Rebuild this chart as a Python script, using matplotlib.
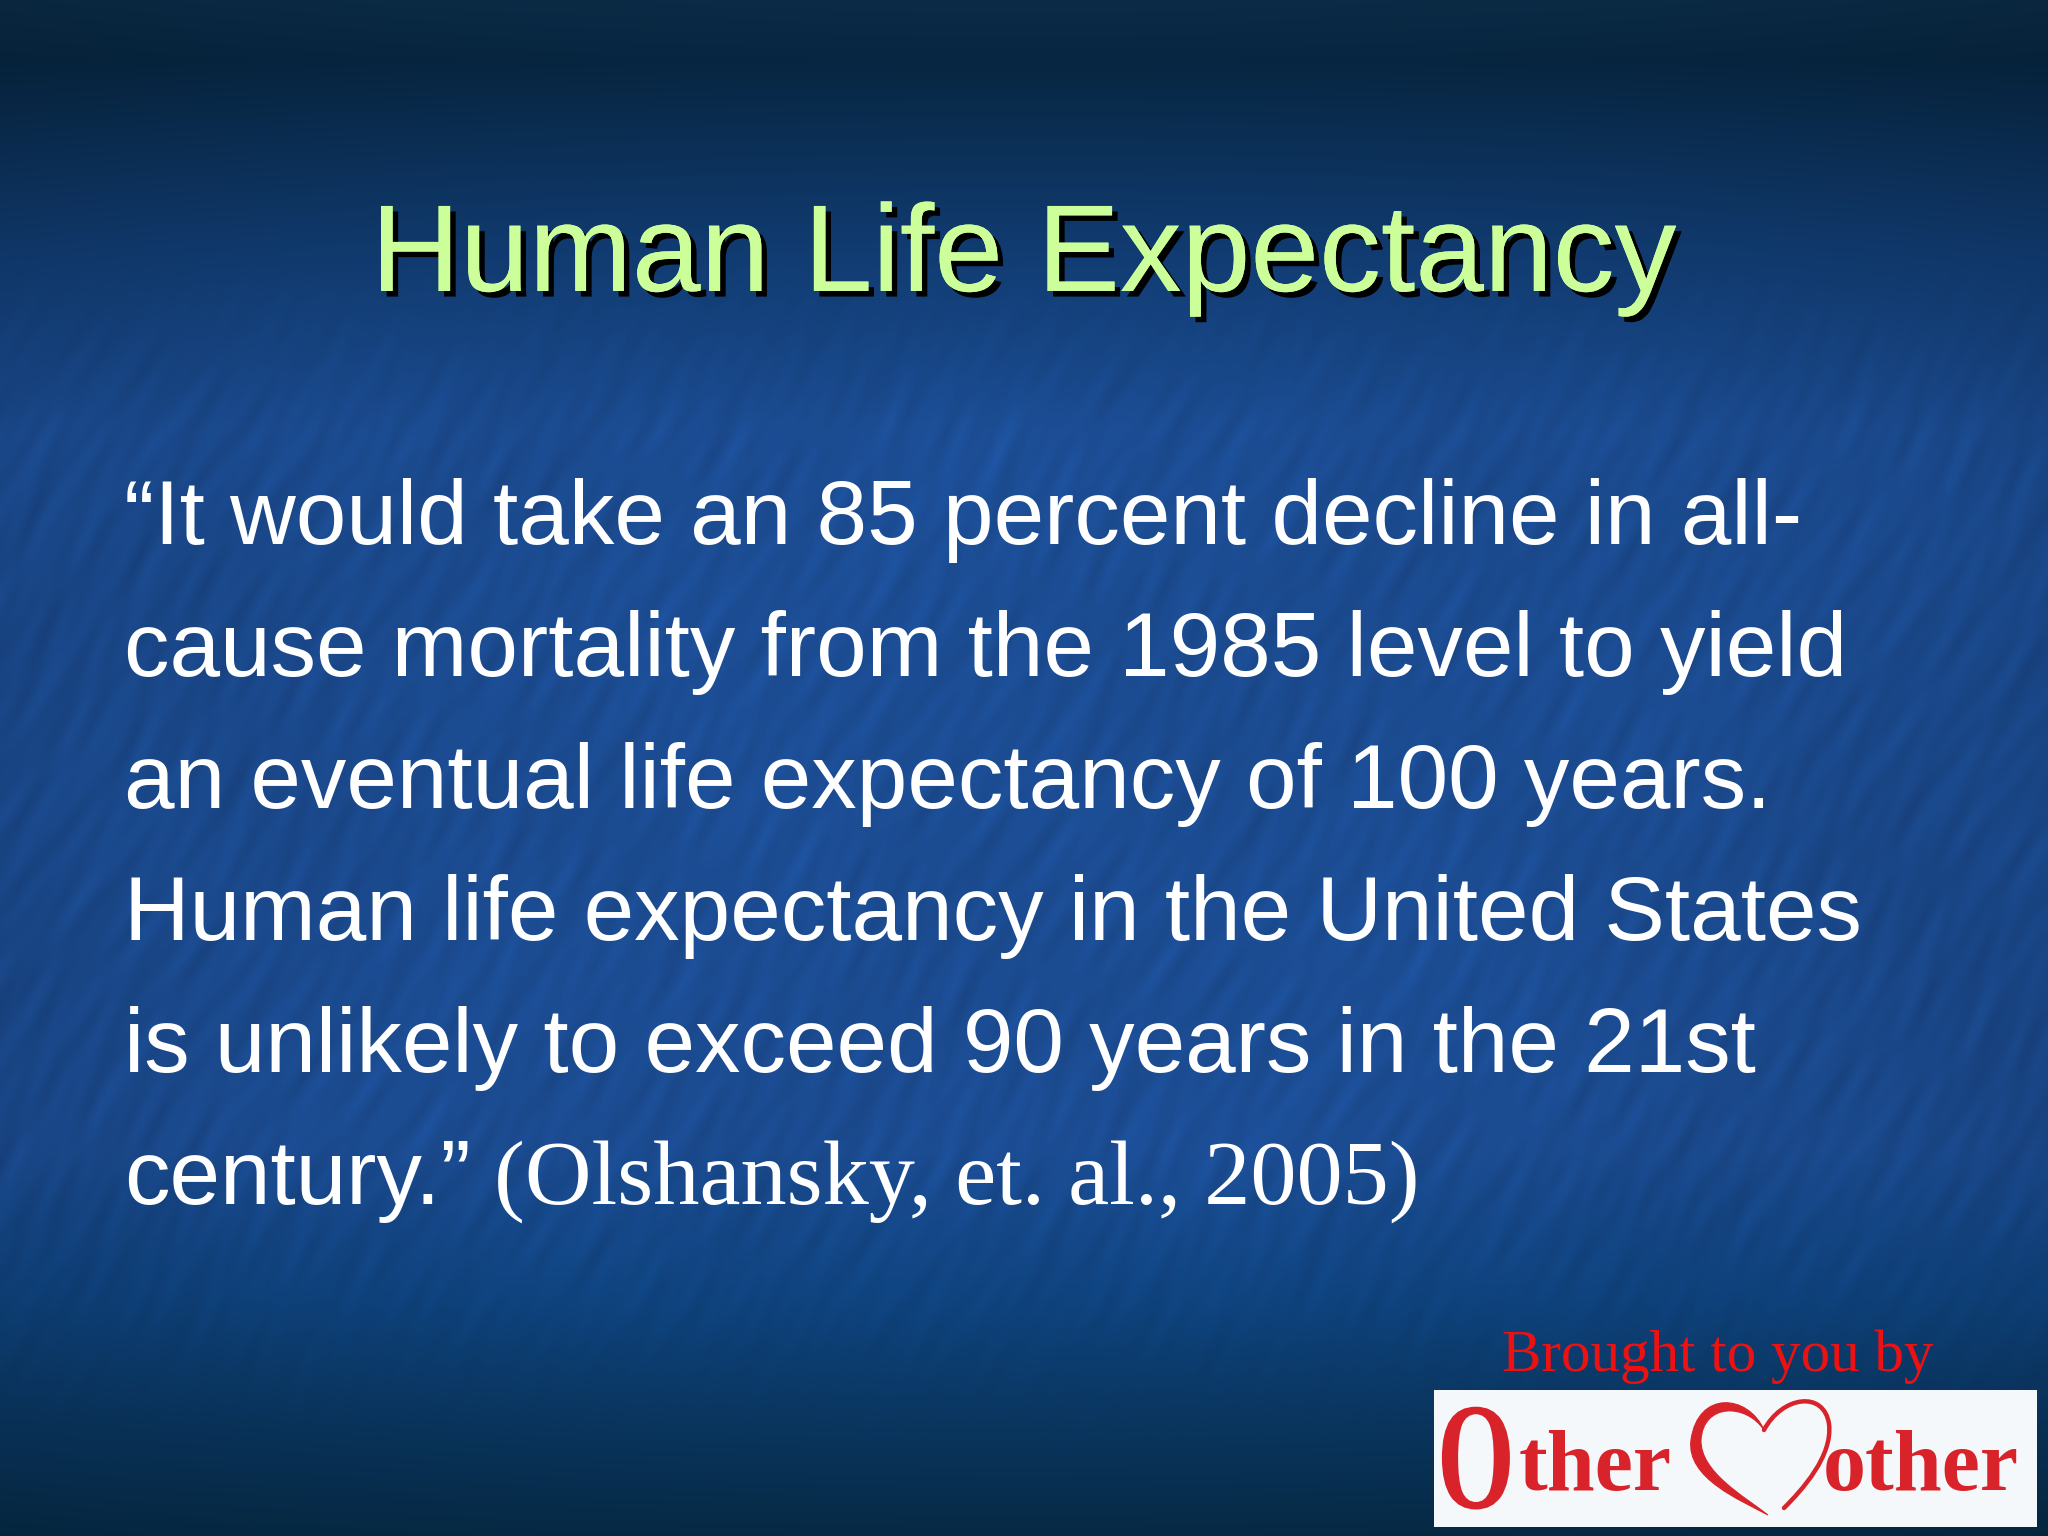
import numpy as np
import matplotlib
matplotlib.use("Agg")
import matplotlib.pyplot as plt
import matplotlib.patheffects as pe
from matplotlib.path import Path
from matplotlib.patches import PathPatch, Rectangle
from matplotlib.colors import to_rgb
from matplotlib.transforms import Affine2D

# ---- content ----
title = "Human Life Expectancy"
quote_lines = [
    "\u201cIt would take an 85 percent decline in all-",
    "cause mortality from the 1985 level to yield",
    "an eventual life expectancy of 100 years.",
    "Human life expectancy in the United States",
    "is unlikely to exceed 90 years in the 21st",
]
last_line_sans = "century.\u201d"
citation = " (Olshansky, et. al., 2005)"
credit = "Brought to you by"
logo_words = ["O", "ther", "other"]

W, H = 2048, 1536
fig = plt.figure(figsize=(W / 100, H / 100), dpi=100)
ax = fig.add_axes([0, 0, 1, 1])
ax.set_xlim(0, W)
ax.set_ylim(H, 0)
ax.axis("off")


class Stretch(pe.AbstractPathEffect):
    """Scale a text glyph about its baseline-left anchor (condensed tall letter)."""
    def __init__(self, sx, sy, anchor):
        super().__init__()
        self.sx, self.sy = sx, sy
        self.anchor = anchor

    def draw_path(self, renderer, gc, tpath, affine, rgbFace=None):
        x0, y0 = ax.transData.transform(self.anchor)
        extra = Affine2D().translate(-x0, -y0).scale(self.sx, self.sy).translate(x0, y0)
        renderer.draw_path(gc, tpath, affine + extra, rgbFace)


# ---- background gradient with subtle texture ----
ny, nx = 512, 683
yy = np.linspace(0, H, ny)
xx = np.linspace(0, W, nx)
stops_y = [0, 60, 250, 430, 1150, 1300, 1420, 1536]
stops_c = ["#0b2b46", "#072641", "#113c72", "#1c4d94", "#1c4d94",
           "#0f4480", "#0a3660", "#062a45"]
cols = np.array([to_rgb(c) for c in stops_c])
prof = np.stack([np.interp(yy, stops_y, cols[:, k]) for k in range(3)], axis=1)
img = np.repeat(prof[:, None, :], nx, axis=1)
X, Y = np.meshgrid(xx, yy)
vign = 1 - 0.10 * ((X / W - 0.5) * 2) ** 2
th = np.radians(62)
u = X * np.sin(th) + Y * np.cos(th)      # across streaks
v = X * np.cos(th) - Y * np.sin(th)      # along streaks
tex = (np.sin(u / 6.1 + 2.0 * np.sin(v / 83.0)) * np.sin(v / 47.0 + u / 311.0)
       + 0.7 * np.sin(u / 3.7 + 1.5 * np.sin(v / 61.0 + u / 190.0)) * np.sin(v / 29.0 - u / 150.0)
       + 0.5 * np.sin(u / 11.3 - v / 133.0) * np.sin(v / 71.0 + u / 57.0)
       + 0.6 * np.sin(X / 170.0 + np.sin(Y / 90.0)) * np.sin(Y / 130.0 + np.sin(X / 70.0)))
mid = np.clip((Y - 250) / 200, 0, 1) * np.clip((1450 - Y) / 250, 0, 1)
img = img * vign[..., None] * (1 + 0.04 * tex[..., None] * mid[..., None])
img = np.clip(img, 0, 1)
ax.imshow(img, extent=[0, W, H, 0], aspect="auto", interpolation="bilinear", zorder=0)

# ---- title ----
ax.text(W / 2, 291, title, ha="center", va="baseline", fontsize=89,
        family="Liberation Sans", color="#ccff99", zorder=3,
        path_effects=[pe.withSimplePatchShadow(offset=(4, -4), shadow_rgbFace="black", alpha=1.0),
                      pe.Normal()])

# ---- quote ----
x0 = 124
base0 = 544
step = 132
for i, line in enumerate(quote_lines):
    ax.text(x0, base0 + i * step, line, ha="left", va="baseline", fontsize=65.4,
            family="Liberation Sans", color="white", zorder=3)
t = ax.text(x0, base0 + 5 * step, last_line_sans, ha="left", va="baseline",
            fontsize=65.4, family="Liberation Sans", color="white", zorder=3)
fig.canvas.draw()
bb = t.get_window_extent()
x_end = ax.transData.inverted().transform((bb.x1, bb.y0))[0]
ax.text(x_end, base0 + 5 * step, citation, ha="left", va="baseline", fontsize=66.5,
        family="Liberation Serif", color="white", zorder=3)

# ---- credit & logo ----
ax.text(1502, 1371, credit, ha="left", va="baseline", fontsize=42.5,
        family="Liberation Serif", color="#ee1111", zorder=3)
ax.add_patch(Rectangle((1434, 1390), 603, 137, facecolor="#f5f8fb", edgecolor="none", zorder=2))
logo_red = "#d9232b"
o_anchor = (1437, 1508)
ax.text(o_anchor[0], o_anchor[1], logo_words[0], ha="left", va="baseline", fontsize=72,
        family="Liberation Serif", weight="bold", color=logo_red, zorder=3,
        path_effects=[Stretch(1.0, 1.53, o_anchor)])
ax.text(1519, 1490, logo_words[1], ha="left", va="baseline", fontsize=62,
        family="Liberation Serif", weight="bold", color=logo_red, zorder=3)
ax.text(1823, 1490, logo_words[2], ha="left", va="baseline", fontsize=62,
        family="Liberation Serif", weight="bold", color=logo_red, zorder=3)

# heart (left thick half)
verts = [(1764, 1430),
         (1748, 1394), (1698, 1390), (1691, 1440),
         (1686, 1478), (1740, 1500), (1768, 1515),
         (1745, 1497), (1700, 1472), (1701, 1440),
         (1703, 1403), (1746, 1403), (1764, 1430),
         (1764, 1430)]
codes = [Path.MOVETO] + [Path.CURVE4] * 12 + [Path.CLOSEPOLY]
ax.add_patch(PathPatch(Path(verts, codes), facecolor=logo_red, edgecolor=logo_red,
                       lw=0.8, zorder=3))
# heart right thin half
verts2 = [(1764, 1430), (1782, 1396), (1824, 1390), (1829, 1424),
          (1833, 1456), (1802, 1490), (1784, 1508)]
codes2 = [Path.MOVETO] + [Path.CURVE4] * 6
ax.add_patch(PathPatch(Path(verts2, codes2), facecolor="none", edgecolor=logo_red,
                       lw=3.2, capstyle="round", zorder=3))

fig.savefig("out.png", dpi=100)
